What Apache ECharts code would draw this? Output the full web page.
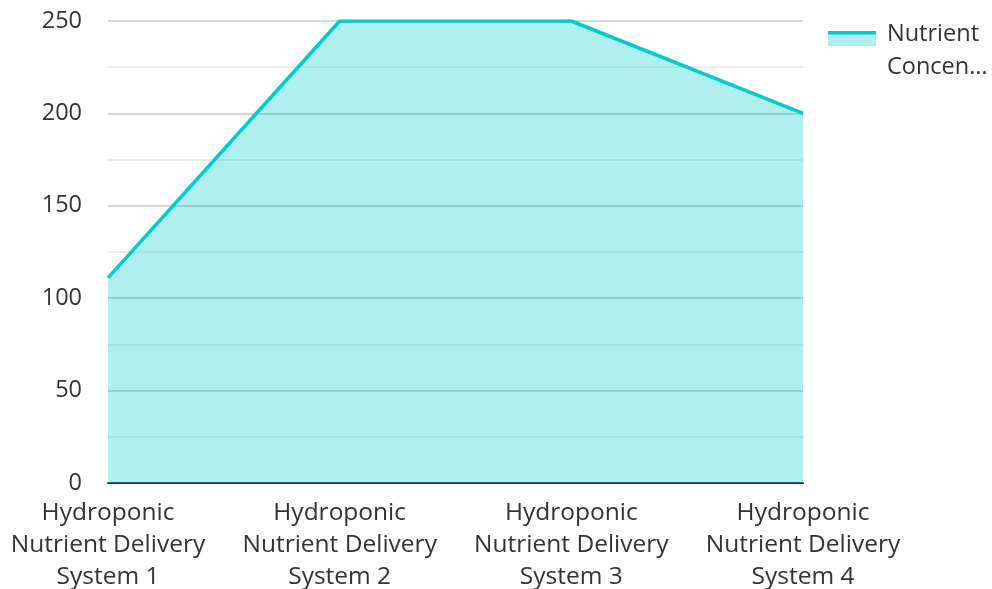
<!DOCTYPE html>
<html><head><meta charset="utf-8">
<script src="https://cdn.jsdelivr.net/npm/echarts@6/dist/echarts.min.js"></script>
<style>html,body{margin:0;padding:0;background:#fff}#c{width:992px;height:589px}</style>
</head><body><div id="c"></div>
<script>
const categories = ['Hydroponic Nutrient Delivery System 1','Hydroponic Nutrient Delivery System 2','Hydroponic Nutrient Delivery System 3','Hydroponic Nutrient Delivery System 4'];
const categoryLabels = ['Hydroponic\nNutrient Delivery\nSystem 1','Hydroponic\nNutrient Delivery\nSystem 2','Hydroponic\nNutrient Delivery\nSystem 3','Hydroponic\nNutrient Delivery\nSystem 4'];
const seriesName = 'Nutrient Concentration';
const values = [111, 250, 250, 200];
const font = '"Open Sans", "Noto Sans", sans-serif';
const chart = echarts.init(document.getElementById('c'));
chart.setOption({
  animation: false,
  grid: {left: 108, right: 189, top: 21, bottom: 106, containLabel: false, outerBoundsMode: 'none'},
  legend: {
    show: true, top: 13, left: 829, orient: 'vertical', align: 'left',
    itemWidth: 48, itemHeight: 14, itemGap: 10,
    icon: 'none',
    formatter: () => 'Nutrient\nConcen…',
    textStyle: {fontFamily: font, fontSize: 23.5, color: '#333', lineHeight: 33}
  },
  graphic: [
    {type: 'rect', left: 828, top: 34, shape: {width: 48, height: 12}, style: {fill: '#b1efee'}, silent: true},
    {type: 'rect', left: 828, top: 31, shape: {width: 48, height: 3.5}, style: {fill: '#00cccc'}, silent: true}
  ],
  xAxis: {
    type: 'category', data: categories, boundaryGap: false,
    axisLine: {show: true, lineStyle: {color: '#333', width: 2}},
    axisTick: {show: false},
    axisLabel: {formatter: (v, i) => categoryLabels[i], fontFamily: font, fontSize: 24.5, color: '#333', lineHeight: 32, margin: 14, interval: 0},
    splitLine: {show: false}
  },
  yAxis: {
    type: 'value', min: 0, max: 250, interval: 50,
    axisLine: {show: false}, axisTick: {show: false},
    axisLabel: {fontFamily: font, fontSize: 23.5, color: '#333', margin: 26},
    splitLine: {show: true, lineStyle: {color: '#c8c8c8', width: 1.5}},
    minorTick: {show: false, splitNumber: 2},
    minorSplitLine: {show: true, lineStyle: {color: '#e6e6e6', width: 1.5}}
  },
  series: [{
    name: seriesName, type: 'line', data: values,
    symbol: 'none', lineStyle: {color: '#00cccc', width: 3.5},
    itemStyle: {color: '#00cccc'},
    areaStyle: {color: 'rgba(0,204,204,0.31)', opacity: 1, origin: 'start'}
  }]
});
</script></body></html>
